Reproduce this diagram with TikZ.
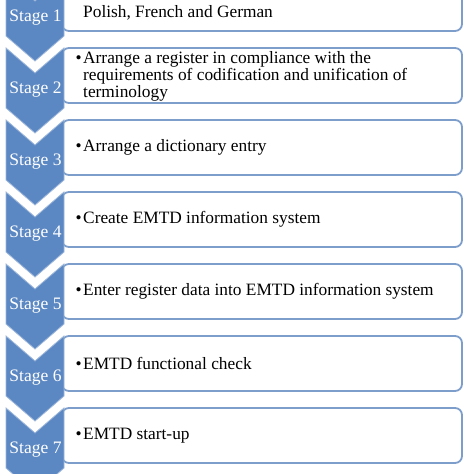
\documentclass[tikz,border=0pt]{standalone}
\usepackage{fontspec}
\setmainfont{Liberation Serif}
\usepackage{tikz}
\usetikzlibrary{positioning}
\definecolor{EMBlue}{HTML}{5B88C3}
\definecolor{EMEdge}{HTML}{9CB6DA}
\definecolor{EMBorder}{HTML}{7D9DCB}
\tikzset{
  stagebox/.style={draw=EMBorder, fill=white, line width=1.8bp, rounded corners=7bp},
  chevron/.style={fill=EMBlue, draw=EMEdge, line width=0.8bp},
  stagelabel/.style={text=white, font=\fontsize{17.6}{17}\selectfont, inner sep=0pt},
  steptext/.style={anchor=west, align=left, inner sep=0pt, font=\fontsize{17.4}{17}\selectfont}
}
\newcommand{\bul}{\llap{\textbullet\hspace{1.5bp}}}

\begin{document}
\begin{tikzpicture}[x=1bp, y=-1bp]
\clip (0,0) rectangle (474,474);
\fill[white] (0,0) rectangle (474,474);
% boxes and chevrons, one per stage
\foreach \k in {1,...,7}{
  \pgfmathsetmacro{\t}{48+72*(\k-2)}
  \draw[stagebox] (62,\t) -- (462,\t) -- (462,\t+55) -- (62,\t+55) -- cycle;
  \draw[chevron] (6,\t) -- (35,\t+25) -- (64,\t) -- (64,\t+60) -- (35,\t+85) -- (6,\t+60) -- cycle;
  \node[stagelabel] (stage\k) at (35.5,\t+42) {Stage \k};
}
% texts
\node[steptext] (txt1) at (83,13) {Polish, French and German};
\node[steptext] (txt2) at (83,76) {\bul Arrange a register in compliance with the\\requirements of codification and unification of\\terminology};
\node[steptext] (txt3) at (83,147.5) {\bul Arrange a dictionary entry};
\node[steptext] (txt4) at (83,219.5) {\bul Create EMTD information system};
\node[steptext] (txt5) at (83,291.5) {\bul Enter register data into EMTD information system};
\node[steptext] (txt6) at (83,363.5) {\bul EMTD functional check};
\node[steptext] (txt7) at (83,435.5) {\bul EMTD start-up};
\end{tikzpicture}
\end{document}
